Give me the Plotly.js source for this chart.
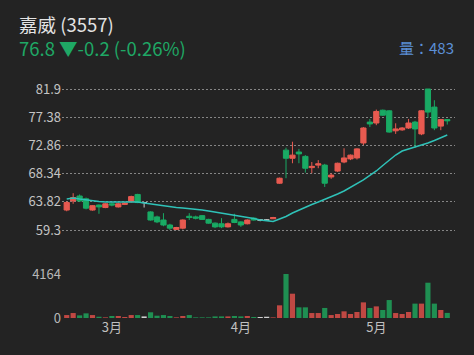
<!DOCTYPE html>
<html><head><meta charset="utf-8">
<script src="https://cdn.plot.ly/plotly-3.0.1.min.js"></script>
<style>html,body{margin:0;padding:0;background:#232323;} #chart{width:474px;height:355px;}</style>
</head><body><div id="chart"></div>
<script>
// ---- header info ----
const stockName = '嘉威';
const stockCode = '3557';
const lastPrice = 76.8;
const priceChange = -0.2;
const pctChange = -0.26;
const lastVolume = 483;

// ---- month ticks (trading-day index of first day in month) ----
const monthTickIndex = [7, 27, 48];
const monthLabels = ['3月', '4月', '5月'];

// ---- daily OHLC ----
const opens = [62.5, 63.95, 64.75, 64.3, 62.5, 63.3, 62.9, 63.5, 63.0, 63.4,
  63.85, 65.0, 63.7, 62.2, 61.4, 60.9, 60.1, 59.4, 59.6, 61.5,
  61.4, 61.6, 61.0, 60.4, 60.3, 59.8, 61.0, 60.6, 60.3, 61.2,
  60.9, 60.9, 61.1, 66.8, 72.1, 70.8, 71.8, 71.1, 69.3, 69.7,
  69.7, 67.8, 68.75, 70.2, 70.7, 70.85, 73.25, 76.6, 76.45, 78.5,
  78.4, 75.2, 75.35, 75.65, 76.6, 74.7, 81.9, 79.0, 75.95, 77.0];
const highs = [63.9, 65.2, 65.0, 64.5, 63.3, 63.4, 63.6, 63.7, 63.7, 63.8,
  64.8, 65.1, 63.8, 62.3, 61.6, 62.0, 60.3, 59.8, 61.0, 62.0,
  61.6, 61.7, 61.1, 60.5, 61.2, 60.5, 61.9, 60.7, 61.0, 61.3,
  61.0, 61.0, 61.4, 67.7, 72.5, 73.45, 72.3, 71.3, 70.2, 70.5,
  69.9, 68.4, 70.1, 72.4, 71.4, 72.4, 75.8, 77.1, 78.6, 78.6,
  78.5, 76.4, 75.8, 77.1, 76.8, 78.5, 81.9, 80.1, 77.1, 77.1];
const lows = [62.3, 63.5, 63.8, 62.6, 62.4, 61.9, 62.8, 63.1, 62.9, 63.3,
  63.7, 63.6, 62.9, 60.8, 60.4, 59.9, 59.3, 59.3, 59.4, 60.9,
  61.0, 60.9, 60.3, 59.6, 59.6, 59.7, 60.4, 59.8, 60.2, 60.8,
  60.7, 60.8, 61.1, 66.7, 67.6, 70.0, 70.0, 68.5, 68.4, 69.2,
  66.2, 67.5, 68.6, 70.0, 70.5, 70.6, 72.9, 75.8, 76.1, 77.6,
  74.9, 74.7, 75.2, 75.5, 72.45, 74.5, 77.3, 75.3, 75.3, 76.2];
const closes = [63.7, 64.5, 63.95, 62.8, 63.2, 63.0, 63.5, 63.3, 63.5, 63.6,
  64.65, 63.7, 63.7, 60.9, 60.6, 60.1, 59.6, 59.7, 60.9, 61.3,
  61.2, 61.0, 60.4, 59.8, 59.8, 60.3, 60.5, 60.1, 60.9, 60.9,
  60.9, 60.9, 61.3, 67.6, 70.8, 71.3, 71.5, 69.2, 69.5, 69.9,
  66.8, 68.1, 70.0, 70.85, 71.3, 72.3, 75.65, 76.3, 78.3, 77.7,
  75.0, 75.5, 75.65, 76.45, 75.5, 78.4, 78.2, 75.65, 77.0, 76.8];

// ---- volume (lots) ----
const volumes = [280, 470, 250, 440, 280, 120, 60, 190, 190, 95,
  280, 280, 150, 540, 220, 280, 190, 60, 190, 280,
  60, 60, 60, 150, 150, 150, 190, 150, 190, 95,
  95, 120, 60, 1200, 4164, 2300, 1010, 1010, 470, 470,
  950, 280, 380, 630, 380, 570, 1480, 950, 1100, 760,
  1700, 470, 380, 570, 1360, 1360, 3340, 1360, 760, 483];

// ---- moving average line ----
const movingAvg = [64.27, 64.43, 64.27, 64.1, 63.95, 63.87, 63.79, 63.79, 63.79, 63.7,
  63.79, 63.79, 63.63, 63.47, 63.31, 63.15, 62.99, 62.9, 62.83, 62.75,
  62.67, 62.51, 62.35, 62.19, 62.03, 61.87, 61.71, 61.55, 61.39, 61.15,
  60.9, 60.75, 60.67, 61.07, 61.47, 62.03, 62.51, 62.99, 63.39, 63.79,
  64.19, 64.59, 65.07, 65.55, 66.11, 66.68, 67.32, 68.04, 68.76, 69.64,
  70.52, 71.32, 71.96, 72.28, 72.52, 72.85, 73.25, 73.65, 74.05, 74.53];

const RED = '#e85a50', GREEN = '#19aa64', GRAY = '#c8c8c8';
const VRED = '#c04843', VGREEN = '#1f8f52', VGRAY = '#d0d0d0';

const xs = opens.map((_, i) => i);
const isFlat = opens.map((o, i) => o === closes[i]);
const pick = (arr, want) => arr.map((v, i) => (isFlat[i] === want ? v : null));

const volColors = opens.map((o, i) => closes[i] > o ? VRED : (closes[i] < o ? VGREEN : VGRAY));

const pMin = Math.min(...lows), pMax = Math.max(...highs);
const priceTicks = [0, 1, 2, 3, 4, 5].map(k => pMin + k * (pMax - pMin) / 5);
const priceTickText = priceTicks.map(v => String(parseFloat(v.toFixed(2))));
const vMax = Math.max(...volumes);

const traces = [
  {type: 'bar', x: xs, y: volumes, xaxis: 'x', yaxis: 'y2',
   marker: {color: volColors, line: {width: 0}}, hoverinfo: 'skip'},
  {type: 'candlestick', x: xs, open: pick(opens, false), high: pick(highs, false),
   low: pick(lows, false), close: pick(closes, false), xaxis: 'x', yaxis: 'y',
   increasing: {line: {color: RED, width: 1}, fillcolor: RED},
   decreasing: {line: {color: GREEN, width: 1}, fillcolor: GREEN}, hoverinfo: 'skip'},
  {type: 'candlestick', x: xs, open: pick(opens, true), high: pick(highs, true),
   low: pick(lows, true), close: pick(closes, true), xaxis: 'x', yaxis: 'y',
   increasing: {line: {color: GRAY, width: 1}, fillcolor: GRAY},
   decreasing: {line: {color: GRAY, width: 1}, fillcolor: GRAY}, hoverinfo: 'skip'},
  {type: 'scatter', mode: 'lines', x: xs, y: movingAvg, xaxis: 'x', yaxis: 'y',
   line: {color: '#2fc2b8', width: 1.5}, hoverinfo: 'skip'}
];

// plot area: px x 62..455, y 80..318
const PL = 62, PR = 455, PT = 80, PB = 318;
const W = PR - PL, H = PB - PT;
const px2x = px => (px - PL) / W;
const py2y = py => (PB - py) / H;

const sign = priceChange < 0 ? '▼' : '▲';
const headerText = stockName + ' (' + stockCode + ')<br>' +
  '<span style="color:#1fa865">' + lastPrice + ' ' + sign + priceChange +
  ' (' + pctChange + '%)</span>';

const layout = {
  width: 474, height: 355,
  paper_bgcolor: '#232323', plot_bgcolor: '#232323',
  margin: {l: PL, r: 474 - PR, t: PT, b: 355 - PB, pad: 0},
  showlegend: false,
  boxgap: 0.1, boxgroupgap: 0.1, bargap: 0.2,
  font: {family: '"Noto Sans CJK TC", "Noto Sans", sans-serif', color: '#c4c4c4', size: 13},
  xaxis: {anchor: 'y2', range: [-0.73, 60.2], tickvals: monthTickIndex, ticktext: monthLabels,
    showgrid: false, zeroline: false, showline: false, ticks: '',
    rangeslider: {visible: false}, tickfont: {size: 13, color: '#c0c0c0'}},
  yaxis: {domain: [py2y(240), 1], range: [pMin - 10 / 6.24, pMax + 9 / 6.24],
    tickvals: priceTicks, ticktext: priceTickText, showgrid: true,
    gridcolor: '#858585', griddash: '2px,2px', gridwidth: 1, zeroline: false,
    ticks: '', anchor: 'x', tickfont: {size: 13, color: '#c4c4c4'}},
  yaxis2: {domain: [0, py2y(262)], range: [0, vMax * 56 / 44],
    tickvals: [0, vMax], ticktext: ['0', String(vMax)], showgrid: false,
    zeroline: false, ticks: '', anchor: 'x', tickfont: {size: 13, color: '#b8b8b8'}},
  annotations: [
    {xref: 'paper', yref: 'paper', x: px2x(17), y: py2y(36), xanchor: 'left', yanchor: 'middle',
     align: 'left', showarrow: false, text: headerText,
     font: {size: 18.5, color: '#e4e4e4'}},
    {xref: 'paper', yref: 'paper', x: px2x(456), y: py2y(47), xanchor: 'right', yanchor: 'middle',
     showarrow: false, text: '量：' + lastVolume,
     font: {size: 15, color: '#5b8fd6'}}
  ]
};

Plotly.newPlot('chart', traces, layout, {staticPlot: true, displayModeBar: false});
</script>
</body></html>
